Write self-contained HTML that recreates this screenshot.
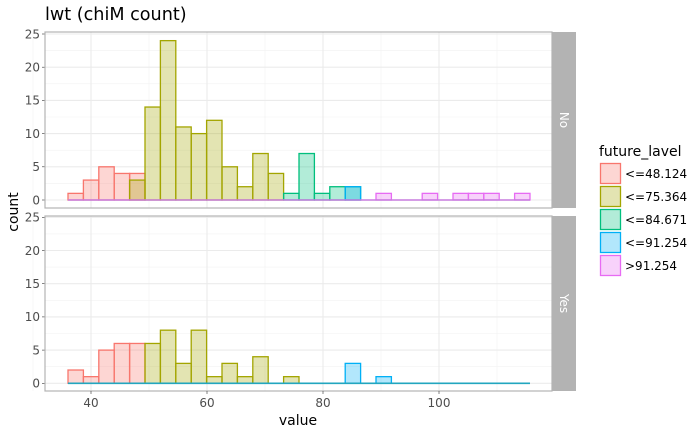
<!DOCTYPE html>
<html><head><meta charset="utf-8"><style>
html,body{margin:0;padding:0;background:#fff;}
svg{display:block;font-family:"DejaVu Sans","Liberation Sans",sans-serif;}
</style></head><body>
<svg id="s" width="700" height="432" xmlns="http://www.w3.org/2000/svg"></svg>
<script>
const s=document.getElementById('s');let h='';
const X0=68,BW=15.4,U=6.64;
const xv=v=>91+(v-40)*5.8;
const cols=['#F8766D','#A3A500','#00BF7D','#00B0F6','#E76BF3'];
function panel(top,bot,zero,strip,groups,lineCol){
  h+=`<rect x="45" y="${top}" width="507" height="${bot-top}" fill="#fff"/>`;
  for(let k=0;k<5;k++){const y=zero-(k*5+2.5)*U;h+=`<line x1="45" x2="552" y1="${y}" y2="${y}" stroke="#f2f2f2" stroke-width="0.6"/>`;}
  for(let v=30;v<=110;v+=20){const x=xv(v);h+=`<line x1="${x}" x2="${x}" y1="${top}" y2="${bot}" stroke="#f2f2f2" stroke-width="0.6"/>`;}
  for(let k=0;k<=5;k++){const y=zero-k*5*U;h+=`<line x1="45" x2="552" y1="${y}" y2="${y}" stroke="#ebebeb" stroke-width="1.1"/>`;
    h+=`<line x1="42" x2="45" y1="${y}" y2="${y}" stroke="#333" stroke-width="0.6"/>`;
    h+=`<text x="40" y="${y+4.3}" text-anchor="end" font-size="12" fill="#4d4d4d">${k*5}</text>`;}
  for(let v=40;v<=100;v+=20){const x=xv(v);h+=`<line x1="${x}" x2="${x}" y1="${top}" y2="${bot}" stroke="#ebebeb" stroke-width="1.1"/>`;}
  groups.forEach((g,gi)=>{
    for(let i=0;i<30;i++){const c=g[i]||0;const x=X0+i*BW;
      if(c>0)h+=`<rect x="${x}" y="${zero-c*U}" width="${BW}" height="${c*U}" fill="${cols[gi]}" fill-opacity="0.3" stroke="${cols[gi]}" stroke-width="1.3"/>`;}
  });
  h+=`<line x1="${X0}" x2="${X0+30*BW}" y1="${zero}" y2="${zero}" stroke="${lineCol}" stroke-width="1.6"/>`;
  h+=`<rect x="45" y="${top}" width="507" height="${bot-top}" fill="none" stroke="#b3b3b3" stroke-width="1.2"/>`;
  h+=`<rect x="552" y="${top}" width="24" height="${bot-top}" fill="#b3b3b3"/>`;
  const cy=(top+bot)/2;
  h+=`<text x="564" y="${cy}" transform="rotate(90 564 ${cy})" text-anchor="middle" dominant-baseline="central" font-size="12" fill="#fff">${strip}</text>`;
}
function arr(m){const a=[];for(const k in m)a[k]=m[k];return a;}
panel(32,208,200,'No',[
 arr({0:1,1:3,2:5,3:4,4:4}),
 arr({4:3,5:14,6:24,7:11,8:10,9:12,10:5,11:2,12:7,13:4}),
 arr({14:1,15:7,16:1,17:2,18:2}),
 arr({18:2}),
 arr({20:1,23:1,25:1,26:1,27:1,29:1})],'#c77cde');
panel(216,391,383.3,'Yes',[
 arr({0:2,1:1,2:5,3:6,4:6}),
 arr({5:6,6:8,7:3,8:8,9:1,10:3,11:1,12:4,14:1}),
 arr({}),
 arr({18:3,20:1}),
 arr({})],'#22a6bf');
for(let v=40;v<=100;v+=20){const x=xv(v);h+=`<line x1="${x}" x2="${x}" y1="391" y2="394" stroke="#333" stroke-width="0.6"/><text x="${x}" y="407" text-anchor="middle" font-size="12" fill="#4d4d4d">${v}</text>`;}
h+=`<text x="298" y="425" text-anchor="middle" font-size="14" fill="#000">value</text>`;
h+=`<text x="18" y="212" transform="rotate(-90 18 212)" text-anchor="middle" font-size="14" fill="#000">count</text>`;
h+=`<text x="45" y="20" font-size="17.6" fill="#000">lwt (chiM count)</text>`;
h+=`<text x="599" y="156" font-size="14" fill="#000">future_lavel</text>`;
const labs=['<=48.124','<=75.364','<=84.671','<=91.254','>91.254'];
labs.forEach((l,i)=>{const y=163+i*23;
 h+=`<rect x="600.5" y="${y+0.5}" width="20" height="20" fill="${cols[i]}" fill-opacity="0.3" stroke="${cols[i]}" stroke-width="1.3"/>`;
 h+=`<text x="625" y="${y+15}" font-size="12" fill="#000">${l.replace('<','&lt;').replace('>','&gt;')}</text>`;});
s.innerHTML=h;
</script>
</body></html>
